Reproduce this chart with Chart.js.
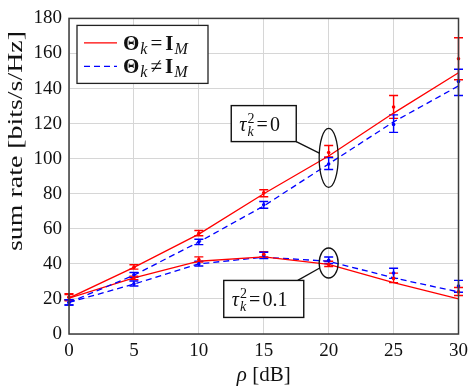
<!DOCTYPE html>
<html lang="en">
<head>
<meta charset="UTF-8">
<title>sum rate vs rho</title>
<script src="https://cdn.jsdelivr.net/npm/chart.js@4.4.0/dist/chart.umd.min.js"></script>
<style>
  html, body { margin: 0; padding: 0; background: #fff; }
  #wrap { width: 474px; height: 387px; }
</style>
</head>
<body>
<div id="wrap"><canvas id="rateChart" width="474" height="387"></canvas></div>
<script>
// x axis: rho in dB
const rhoDb = [0, 5, 10, 15, 20, 25, 30];

// analytic curves
const fitIdealT0    = [20.5, 38, 57, 80, 101.5, 126, 149];
const fitNonIdealT0 = [18, 33.5, 52.5, 73, 97, 121, 141.5];
const fitIdealT01    = [20.5, 32, 41.5, 44, 39.7, 29.3, 20];
const fitNonIdealT01 = [18, 28.5, 40, 43.8, 41.5, 32, 24];

// simulated means with error bars
const meanIdealT0 = [21, 38, 57.5, 80.5, 103.5, 129.5, 157];
const loIdealT0   = [19, 37, 56, 78.3, 101, 123, 145];
const hiIdealT0   = [23, 39.5, 59, 82.3, 107.5, 136, 169];

const meanNonIdealT0 = [18, 33.8, 52.5, 73.7, 97, 119.5, 144];
const loNonIdealT0   = [16.5, 32.4, 51, 71.7, 93.8, 115, 136];
const hiNonIdealT0   = [19.5, 35.1, 54, 75.6, 100.6, 125, 151];

const meanIdealT01 = [21, 32, 42.5, 45.5, 39.7, 31.7, 24];
const loIdealT01   = [19.5, 31, 41, 44, 38.5, 29.3, 22];
const hiIdealT01   = [22.5, 33, 44, 47, 41.5, 34.7, 26.5];

const meanNonIdealT01 = [18, 28.7, 40, 44.8, 42, 34.8, 27.4];
const loNonIdealT01   = [16.5, 27.4, 38.8, 43, 40.2, 31.7, 23.8];
const hiNonIdealT01   = [19.5, 30.2, 41.5, 46.6, 43.9, 37.5, 30.6];

const xTicks = [0, 5, 10, 15, 20, 25, 30];
const yTicks = [0, 20, 40, 60, 80, 100, 120, 140, 160, 180];

const RED = "#ff0000";
const BLUE = "#0000ff";
const SERIF = "'Liberation Serif', 'DejaVu Serif', serif";

function pts(ys) {
    return rhoDb.map((x, i) => ({ x: x, y: ys[i] }));
}

function lineSet(ys, color, dashed) {
    return {
        type: "line",
        data: pts(ys),
        borderColor: color,
        borderWidth: 1.3,
        borderDash: dashed ? [6, 4] : [],
        pointRadius: 0,
        fill: false,
        tension: 0,
        order: 2
    };
}

function errSet(mean, lo, hi, color) {
    return {
        type: "scatter",
        data: pts(mean),
        lo: lo,
        hi: hi,
        backgroundColor: color,
        borderColor: color,
        pointRadius: 1.8,
        borderWidth: 0,
        clip: false,
        order: 1
    };
}

// error bars drawn through the scales
const errorBars = {
    id: "errorBars",
    beforeDatasetsDraw(chart) {
        const ctx = chart.ctx;
        const xs = chart.scales.x, ys = chart.scales.y;
        chart.data.datasets.forEach(ds => {
            if (!ds.lo) return;
            ctx.save();
            ctx.strokeStyle = ds.borderColor;
            ctx.lineWidth = 1.4;
            ds.data.forEach((p, i) => {
                const px = xs.getPixelForValue(p.x);
                const y1 = ys.getPixelForValue(ds.lo[i]);
                const y2 = ys.getPixelForValue(ds.hi[i]);
                ctx.beginPath();
                ctx.moveTo(px, y1); ctx.lineTo(px, y2);
                ctx.moveTo(px - 4.5, y1); ctx.lineTo(px + 4.5, y1);
                ctx.moveTo(px - 4.5, y2); ctx.lineTo(px + 4.5, y2);
                ctx.stroke();
            });
            ctx.restore();
        });
    }
};

// write a list of text pieces: [text, font, dy, gapBefore, noAdvance]
function drawPieces(ctx, pieces, x, y) {
    ctx.textBaseline = "alphabetic";
    ctx.textAlign = "left";
    pieces.forEach(p => {
        ctx.font = p[1];
        if (p[3] !== undefined) x += p[3];
        ctx.fillText(p[0], x, y + (p[2] || 0));
        if (!p[4]) x += ctx.measureText(p[0]).width;
    });
    return x;
}

const extras = {
    id: "extras",
    afterDatasetsDraw(chart) {
        const ctx = chart.ctx;
        const a = chart.chartArea;
        const xs = chart.scales.x, ys = chart.scales.y;
        ctx.save();

        // frame
        ctx.strokeStyle = "#3c3c3c";
        ctx.lineWidth = 1.5;
        ctx.strokeRect(a.left, a.top, a.right - a.left, a.bottom - a.top);

        const big = "20px " + SERIF;
        const bigB = "bold 21px " + SERIF;
        const bigI = "italic 20px " + SERIF;
        const smI = "italic 14px " + SERIF;
        const midI = "italic 16px " + SERIF;
        const sm = "14px " + SERIF;

        // legend
        const lx = a.left + 8, ly = a.top + 7, lw = 131, lh = 58;
        ctx.fillStyle = "#fff";
        ctx.fillRect(lx, ly, lw, lh);
        ctx.strokeStyle = "#222";
        ctx.lineWidth = 1.3;
        ctx.strokeRect(lx, ly, lw, lh);
        const rows = [[RED, [], "="], [BLUE, [6, 4], "\u2260"]];
        rows.forEach((r, i) => {
            const cy = ly + 17.5 + i * 23.5;
            ctx.strokeStyle = r[0];
            ctx.lineWidth = 1.3;
            ctx.setLineDash(r[1]);
            ctx.beginPath();
            ctx.moveTo(lx + 7, cy); ctx.lineTo(lx + 40, cy);
            ctx.stroke();
            ctx.setLineDash([]);
            ctx.fillStyle = "#111";
            drawPieces(ctx, [
                ["\u0398", bigB, 0],
                ["k", midI, 4, 1],
                [r[2], "21px " + SERIF, 0, 3],
                ["I", bigB, 0, 3],
                ["M", midI, 4, 1]
            ], lx + 46, cy + 7);
        });

        // ellipses around the 20 dB points
        const ex = xs.getPixelForValue(20);
        const ellUp = { cx: ex, cy: ys.getPixelForValue(100.5), rx: 9.5, ry: 29.5 };
        const ellLo = { cx: ex, cy: ys.getPixelForValue(40.5), rx: 9.5, ry: 15 };

        // label boxes
        const boxUp = { cx: xs.getPixelForValue(15), cy: ys.getPixelForValue(120), w: 65, h: 36 };
        const boxLo = { cx: xs.getPixelForValue(15), cy: ys.getPixelForValue(20), w: 80, h: 37 };

        function pin(ell, bx, by) {
            const dx = bx - ell.cx, dy = by - ell.cy;
            const t = 1 / Math.sqrt((dx / ell.rx) ** 2 + (dy / ell.ry) ** 2);
            ctx.beginPath();
            ctx.moveTo(bx, by);
            ctx.lineTo(ell.cx + dx * t, ell.cy + dy * t);
            ctx.stroke();
        }

        ctx.strokeStyle = "#111";
        ctx.lineWidth = 1.3;
        [ellUp, ellLo].forEach(e => {
            ctx.beginPath();
            ctx.ellipse(e.cx, e.cy, e.rx, e.ry, 0, 0, Math.PI * 2);
            ctx.stroke();
        });
        pin(ellUp, boxUp.cx + boxUp.w / 2, boxUp.cy + boxUp.h / 2);
        pin(ellLo, boxLo.cx + boxLo.w / 2 - 6, boxLo.cy - boxLo.h / 2);

        [[boxUp, "0"], [boxLo, "0.1"]].forEach(b => {
            const bx = b[0];
            ctx.fillStyle = "#fff";
            ctx.fillRect(bx.cx - bx.w / 2, bx.cy - bx.h / 2, bx.w, bx.h);
            ctx.strokeStyle = "#111";
            ctx.lineWidth = 1.4;
            ctx.strokeRect(bx.cx - bx.w / 2, bx.cy - bx.h / 2, bx.w, bx.h);
            ctx.fillStyle = "#111";
            drawPieces(ctx, [
                ["\u03c4", bigI, 0],
                ["2", sm, -8, 1, true],
                ["k", smI, 5, 0],
                ["=", big, 0, 3],
                [b[1], big, 0, 2]
            ], bx.cx - bx.w / 2 + 8, bx.cy + 7);
        });

        // axis titles
        ctx.fillStyle = "#111";
        ctx.save();
        ctx.translate(16, 141);
        ctx.rotate(-Math.PI / 2);
        ctx.font = "21px " + SERIF;
        ctx.textAlign = "center";
        ctx.textBaseline = "middle";
        const yt = "sum rate [bits/s/Hz]";
        const sx = 220 / ctx.measureText(yt).width;
        ctx.scale(sx, 1);
        ctx.fillText(yt, 0, 0);
        ctx.restore();

        const xt1 = "\u03c1", xt2 = " [dB]";
        ctx.font = "italic 21px " + SERIF;
        const w1 = ctx.measureText(xt1).width;
        ctx.font = "21px " + SERIF;
        const w2 = ctx.measureText(xt2).width;
        const x0 = (a.left + a.right) / 2 - (w1 + w2) / 2;
        drawPieces(ctx, [[xt1, "italic 21px " + SERIF, 0], [xt2, "21px " + SERIF, 0]], x0, 381);

        ctx.restore();
    }
};

const chart = new Chart(document.getElementById("rateChart"), {
    type: "scatter",
    data: {
        datasets: [
            lineSet(fitIdealT0, RED, false),
            lineSet(fitNonIdealT0, BLUE, true),
            lineSet(fitIdealT01, RED, false),
            lineSet(fitNonIdealT01, BLUE, true),
            errSet(meanIdealT0, loIdealT0, hiIdealT0, RED),
            errSet(meanNonIdealT0, loNonIdealT0, hiNonIdealT0, BLUE),
            errSet(meanIdealT01, loIdealT01, hiIdealT01, RED),
            errSet(meanNonIdealT01, loNonIdealT01, hiNonIdealT01, BLUE)
        ]
    },
    options: {
        responsive: false,
        animation: false,
        layout: { padding: { top: 7, right: 12, left: 0, bottom: 0 } },
        plugins: {
            legend: { display: false },
            tooltip: { enabled: false }
        },
        scales: {
            x: {
                type: "linear",
                min: 0, max: 30,
                afterFit: s => { s.height = 53; },
                afterBuildTicks: s => { s.ticks = xTicks.map(v => ({ value: v })); },
                grid: { color: "#d6d6d6", lineWidth: 1, drawTicks: false },
                border: { display: false },
                ticks: { padding: 6, color: "#111", font: { family: SERIF, size: 19 }, maxRotation: 0 }
            },
            y: {
                min: 0, max: 180,
                afterFit: s => { s.width = 69; },
                afterBuildTicks: s => { s.ticks = yTicks.map(v => ({ value: v })); },
                grid: { color: "#d6d6d6", lineWidth: 1, drawTicks: false },
                border: { display: false },
                ticks: { padding: 7, color: "#111", font: { family: SERIF, size: 19 } }
            }
        }
    },
    plugins: [errorBars, extras]
});
</script>
</body>
</html>
